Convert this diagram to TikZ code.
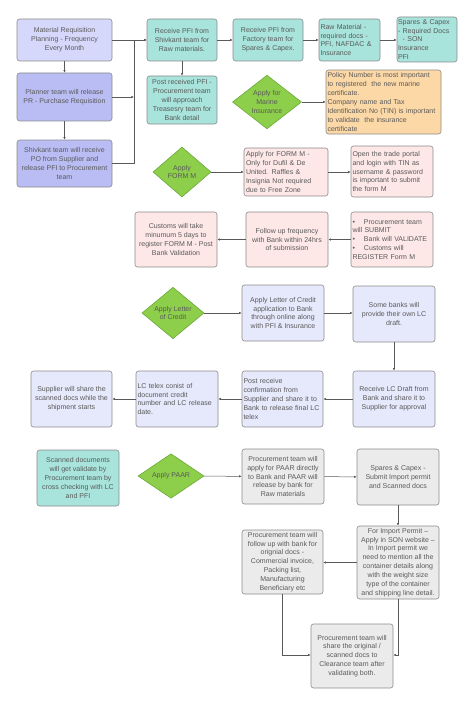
\documentclass[tikz,border=0pt]{standalone}
\usepackage{fontspec}
\setmainfont{Liberation Sans}
\usepackage{tikz}
\usetikzlibrary{shapes.geometric,arrows.meta}

\definecolor{txtgray}{HTML}{5A5A5A}
\definecolor{edgegray}{HTML}{8C8C8C}
\definecolor{lavlight}{HTML}{D6D8FB}
\definecolor{lavdark}{HTML}{BABDF3}
\definecolor{tealfill}{HTML}{A8E4DB}
\definecolor{pinkfill}{HTML}{FDE7E7}
\definecolor{orangefill}{HTML}{FCD8A6}
\definecolor{lcfill}{HTML}{E6E8FB}
\definecolor{grayfill}{HTML}{EBEBEB}
\definecolor{greenfill}{HTML}{8DCE4B}
\definecolor{greenedge}{HTML}{6BA838}

\tikzset{
  box/.style={draw=edgegray, line width=0.6pt, rounded corners=2.5pt,
    text=txtgray, align=center, inner sep=1pt,
    font=\fontsize{7}{8.9}\selectfont},
  boxlav/.style={box, fill=lavlight},
  boxblue/.style={box, fill=lavdark},
  boxteal/.style={box, fill=tealfill},
  boxpink/.style={box, fill=pinkfill},
  boxorange/.style={box, fill=orangefill},
  boxlc/.style={box, fill=lcfill},
  boxgray/.style={box, fill=grayfill},
  decision/.style={diamond, draw=greenedge, line width=0.6pt, fill=greenfill,
    text=txtgray, align=center, inner sep=0pt,
    font=\fontsize{7}{8.9}\selectfont},
  link/.style={draw=black!65, line width=0.5pt, -{Latex[length=2.6pt,width=2.4pt]}}
}

\begin{document}
\begin{tikzpicture}[x=1pt,y=-1pt]

\useasboundingbox (0,0) rectangle (474,706);

%% requisition column
\node[boxlav,  minimum width=95pt, minimum height=42pt] (mrp)      at (64.5,40)   {Material Requisition\\Planning - Frequency\\Every Month};
\node[boxblue, minimum width=95pt, minimum height=48pt] (planner)  at (64.5,97)   {Planner team will release\\PR - Purchase Requisition};
\node[boxblue, minimum width=95pt, minimum height=47pt] (shivkant) at (64.5,163.5) {Shivkant team will receive\\PO from Supplier and\\release PFI to Procurement\\team};

%% PFI row
\node[boxteal, minimum width=70pt, minimum height=42pt] (pfiraw)   at (182,40)    {Receive PFI from\\Shivkant team for\\Raw materials.};
\node[boxteal, minimum width=70pt, minimum height=48pt] (treasury) at (182,100)   {Post received PFI -\\Procurement team\\will approach\\Treasesry team for\\Bank detail};
\node[boxteal, minimum width=70pt, minimum height=42pt] (pficapex) at (268,40)    {Receive PFI from\\Factory team for\\Spares \& Capex.};
\node[boxteal, minimum width=61pt, minimum height=42pt, align=left, text width=58pt] (rawdocs) at (349.5,40) {Raw Material -\\required docs -\\PFI, NAFDAC \&\\Insurance};
\node[boxteal, minimum width=60pt, minimum height=45pt, align=left, text width=58pt] (sparedocs) at (427,39.5) {Spares \& Capex\\- Required Docs\\\ \ - SON\\Insurance\\PFI};

%% marine insurance
\node[decision, minimum width=69pt, minimum height=48pt] (marine) at (267,102) {Apply for\\Marine\\Insurance};
\node[boxorange, minimum width=115pt, minimum height=64pt, align=left, text width=112pt] (policy) at (383.5,102) {Policy Number is most important\\to registered\ \ the new marine\\certificate.\\Company name and Tax\\Identification No (TIN) is important\\to validate\ \ the insurance\\certificate};

%% form M
\node[decision, minimum width=58pt, minimum height=50pt] (formm) at (182,172) {Apply\\FORM M};
\node[boxpink, minimum width=84pt, minimum height=48pt, align=left, text width=80pt] (formmapply) at (286,172) {Apply for FORM M -\\Only for Dufil \& De\\United. Raffles \&\\Insignia Not required\\due to Free Zone};
\node[boxpink, minimum width=82pt, minimum height=51pt, align=left, text width=79pt] (portal) at (392,171.5) {Open the trade portal\\and login with TIN as\\username \& password\\is important to submit\\the form M};
\node[boxpink, minimum width=82pt, minimum height=55pt] (customs)  at (176,239.5) {Customs will take\\minumum 5 days to\\register FORM M - Post\\Bank Validation};
\node[boxpink, minimum width=82pt, minimum height=55pt] (followup) at (287,239.5) {Follow up frequency\\with Bank within 24hrs\\of submission};
\node[boxpink, minimum width=82pt, minimum height=55pt, align=left, text width=79pt] (submit) at (392,239.5) {•\hspace{9pt}Procurement team\\will SUBMIT\\•\hspace{9pt}Bank will VALIDATE\\•\hspace{9pt}Customs will\\REGISTER Form M};

%% letter of credit
\node[decision, minimum width=62pt, minimum height=50pt] (lc) at (173,313) {Apply Letter\\of Credit};
\node[boxlc, minimum width=82pt, minimum height=56pt] (lcapply)   at (283,313)   {Apply Letter of Credit\\application to Bank\\through online along\\with PFI \& Insurance};
\node[boxlc, minimum width=82pt, minimum height=56pt] (lcbanks)   at (394,314)   {Some banks will\\provide their own LC\\draft.};
\node[boxlc, minimum width=82pt, minimum height=56pt] (lcdraft)   at (394,399)   {Receive LC Draft from\\Bank and share it to\\Supplier for approval};
\node[boxlc, minimum width=81pt, minimum height=56pt, align=left, text width=78pt] (lcconfirm) at (282.5,399) {Post receive\\confirmation from\\Supplier and share it to\\Bank to release final LC\\telex};
\node[boxlc, minimum width=82pt, minimum height=56pt, align=left, text width=79pt] (lctelex) at (177,399) {LC telex conist of\\document credit\\number and LC release\\date.};
\node[boxlc, minimum width=81pt, minimum height=56pt] (supplier)  at (71.5,399)  {Supplier will share the\\scanned docs while the\\shipment starts};

%% PAAR and import permit
\node[boxteal, minimum width=82pt, minimum height=56pt] (scanned) at (78,478) {Scanned documents\\will get validate by\\Procurement team by\\cross checking with LC\\and PFI};
\node[decision, minimum width=66pt, minimum height=40pt] (paar) at (171,476) {Apply PAAR};
\node[boxgray, minimum width=82pt, minimum height=55pt] (paarapply) at (283,476.5) {Procurement team will\\apply for PAAR directly\\to Bank and PAAR will\\release by bank for\\Raw materials};
\node[boxgray, minimum width=82pt, minimum height=56pt] (importsub) at (398,477)   {Spares \& Capex -\\Submit Import permit\\and Scanned docs};
\node[boxgray, minimum width=82pt, minimum height=73pt] (permit)    at (398,562.5) {For Import Permit –\\Apply in SON website –\\In Import permit we\\need to mention all the\\container details along\\with the weight size\\type of the container\\and shipping line detail.};
\node[boxgray, minimum width=81pt, minimum height=64pt] (origdocs)  at (282.5,562) {Procurement team will\\follow up with bank for\\orignial docs -\\Commercial invoice,\\Packing list,\\Manufacturing\\Beneficiary etc};
\node[boxgray, minimum width=82pt, minimum height=64pt] (share)     at (352,656)   {Procurement team will\\share the original /\\scanned docs to\\Clearance team after\\validating both.};

%% junction of the first column
\coordinate (bus) at (134,40);

%% edges
\draw[link] (mrp) -- (planner);
\draw[link] (planner) -- (shivkant);
\draw[link] (mrp) -- (pfiraw);
\draw[link] (planner.east) -- (planner.east -| bus);
\draw[link] (shivkant.east) -| (bus) -- (pfiraw.west);
\draw[link] (pfiraw) -- (treasury);
\draw[link] (pfiraw) -- (pficapex);
\draw[link] (pficapex) -- (rawdocs);
\draw[link] (rawdocs) -- (rawdocs -| sparedocs.west);
\draw[link] (marine) -- (policy);
\draw[link] (formm) -- (formmapply);
\draw[link] (formmapply) -- (formmapply -| portal.west);
\draw[link] (submit) -- (followup);
\draw[link] (followup) -- (customs);
\draw[link] (lc) -- (lcapply);
\draw[link] (lcapply) -- (lcapply -| lcbanks.west);
\draw[link] (lcbanks) -- (lcdraft);
\draw[link] (lcdraft) -- (lcconfirm);
\draw[link] (lcconfirm) -- (lctelex);
\draw[link] (lctelex) -- (supplier);
\draw[link] (paar) -- (paarapply);
\draw[link] (paarapply) -- (importsub);
\draw[link] (importsub) -- (permit);
\draw[link] (permit) -- (permit -| origdocs.east);
\draw[link] (origdocs.south) |- ([yshift=1pt]share.west);
\draw[link] (permit.south) |- ([yshift=1pt]share.east);

\end{tikzpicture}
\end{document}
